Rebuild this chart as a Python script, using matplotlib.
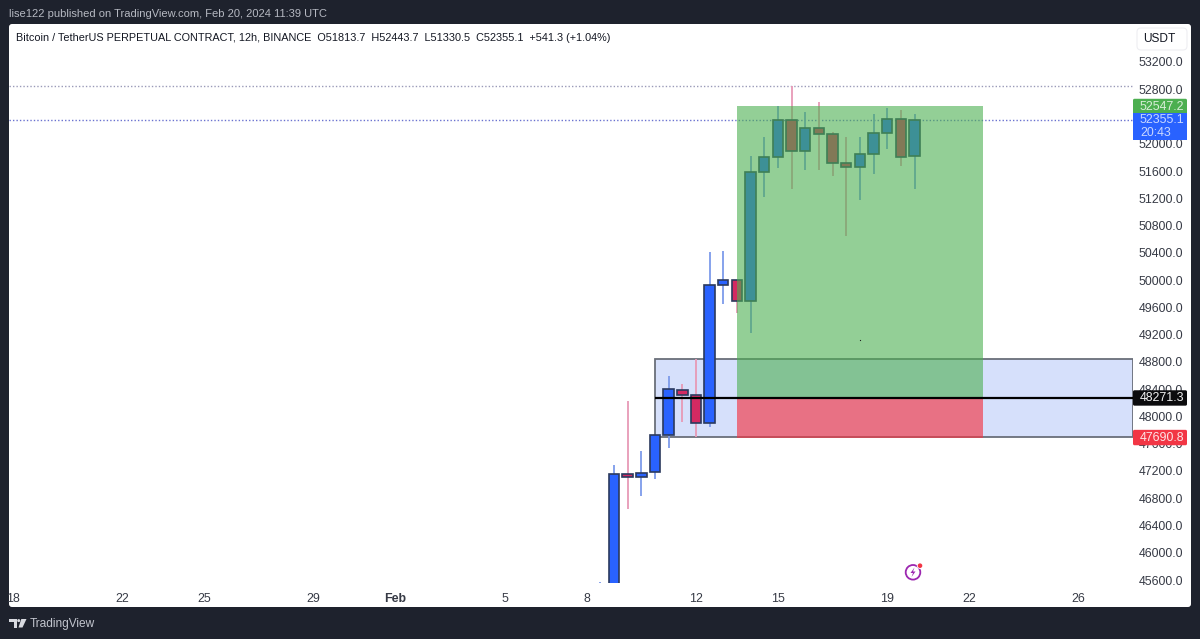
#!/usr/bin/env python

import matplotlib

matplotlib.use('Agg') # For headless use

import matplotlib.pyplot as plt
from matplotlib.patches import Circle, FancyBboxPatch, Polygon, Rectangle

plt.rcParams['font.family'] = ['Liberation Sans', 'DejaVu Sans']

# x is the day count from Jan 1 (Feb 1 = 32)
bar_days = [39.5, 40, 40.5, 41, 41.5, 42, 42.5, 43, 43.5, 44, 44.5, 45, 45.5,
            46, 46.5, 47, 47.5, 48, 48.5, 49, 49.5, 50, 50.5, 51]
opens = [45100, 45400, 47151, 47112, 47181, 47732, 48392, 48310, 47904, 49933, 49998, 49689,
         51591, 51811, 52345, 51894, 52227, 52139, 51723, 51664, 51855, 52163, 52364, 51813.7]
closes = [45400, 47151, 47112, 47171, 47732, 48398, 48310, 47904, 49933, 49998, 49689, 51591,
          51811, 52345, 51894, 52227, 52139, 51723, 51664, 51855, 52163, 52364, 51806, 52355.1]
highs = [45575, 47288, 48227, 47493, 47732, 48594, 48472, 48843, 50408, 50427, 49998, 51821,
         52095, 52559, 52848, 52462, 52613, 52178, 52104, 52104, 52437, 52530, 52496, 52443.7]
lows = [45000, 45300, 46647, 46833, 47087, 47542, 47914, 47703, 47850, 49650, 49518, 49220,
        51215, 51645, 51333, 51611, 51616, 51528, 50647, 51176, 51557, 51924, 51679, 51330.5]

price_ticks = [45600, 46000, 46400, 46800, 47200, 47600, 48000, 48400, 48800, 49200, 49600,
               50000, 50400, 50800, 51200, 51600, 52000, 52400, 52800, 53200]
day_ticks = [18, 22, 25, 29, 32, 36, 39, 43, 46, 50, 53, 57]
day_labels = ['18', '22', '25', '29', 'Feb', '5', '8', '12', '15', '19', '22', '26']

last_price = 52355.1
high_price = 52848
target_price = 52547.2
entry_price = 48271.3
stop_price = 47690.8
position_start, position_end = 44.5, 53.5
zone_start, zone_top, zone_bottom = 41.5, 48850, 47700
dot_day, dot_price = 49, 49122

BLUE = '#2962ff'
RED = '#d42a62'
DARK = '#1e222d'
W, H = 1200, 639
X_LEFT, X_RIGHT = 17.854, 58.997

fig = plt.figure(figsize=(W / 100, H / 100), dpi=100, facecolor=DARK)

# page chrome, in pixels
bg = fig.add_axes([0, 0, 1, 1], zorder=0)
bg.set_xlim(0, W)
bg.set_ylim(H, 0)
bg.axis('off')
bg.add_patch(FancyBboxPatch((10, 25), 1180, 581, boxstyle='round,pad=1,rounding_size=3',
                            fc='white', ec='none'))

ax = fig.add_axes([9 / W, 1 - 583 / H, 1124 / W, 559 / H], zorder=1)
ax.patch.set_alpha(0)
ax.set_xlim(X_LEFT, X_RIGHT)
ax.set_ylim(45557, 53757)
for s in ax.spines.values():
    s.set_visible(False)

ax.yaxis.tick_right()
ax.set_yticks(price_ticks)
ax.set_yticklabels(['{:.1f}'.format(p) for p in price_ticks])
ax.set_xticks(day_ticks)
ax.set_xticklabels(day_labels)
ax.tick_params(axis='both', length=0, labelsize=8.9, labelcolor='#363a45')
ax.tick_params(axis='y', pad=4)
ax.tick_params(axis='x', pad=7)
ax.get_xticklabels()[4].set_fontweight('bold')

# price lines
ax.axhline(high_price, color='#9a9ab8', lw=1.0, ls=(0, (1, 1.5)), zorder=1)
ax.axhline(last_price, color='#6a72d0', lw=1.0, ls=(0, (1, 1.5)), zorder=1)

# support zone
ax.add_patch(Rectangle((zone_start, zone_bottom), X_RIGHT - zone_start, zone_top - zone_bottom,
                       fc='#d6e0fb', ec='#6a6f7a', lw=1.3, zorder=2))

# candles
for day, o, c, h, l in zip(bar_days, opens, closes, highs, lows):
    up = c >= o
    ax.vlines(day, l, h, color='#7d9bea' if up else '#e79ab6', lw=1.3, zorder=3)
    ax.bar(day, abs(c - o), 0.38, bottom=min(o, c), color=BLUE if up else RED,
           edgecolor='#2b3a5e', linewidth=1.2, zorder=4)

# stray drawing dot
ax.plot([dot_day], [dot_price], 's', ms=0.8, color='#222222', mew=0, zorder=7)

# long position
ax.add_patch(Rectangle((position_start, entry_price), position_end - position_start,
                       target_price - entry_price, fc='#4caf50', alpha=0.6, ec='none', zorder=5))
ax.add_patch(Rectangle((position_start, stop_price), position_end - position_start,
                       entry_price - stop_price, fc='#f23645', alpha=0.65, ec='none', zorder=5))
ax.hlines(entry_price, zone_start, X_RIGHT, color='black', lw=1.6, zorder=6)

# everything on top, again in pixels
top = fig.add_axes([0, 0, 1, 1], zorder=2)
top.set_xlim(0, W)
top.set_ylim(H, 0)
top.axis('off')
top.patch.set_alpha(0)


def price_px(price):
    return H - ax.transData.transform((0, price))[1]


def price_label(price, text, fc, color):
    y = price_px(price)
    top.add_patch(FancyBboxPatch((1134, y - 6.7), 52, 13.4, boxstyle='round,pad=1,rounding_size=1.5',
                                 fc=fc, ec='none'))
    top.text(1140, y + 0.3, text, fontsize=8.9, color=color, ha='left', va='center')


price_label(target_price, '52547.2', '#4caf50', '#d9eed9')
price_label(entry_price, '48271.3', '#0b0b0d', '#f0f0f0')
price_label(stop_price, '47690.8', '#f23645', '#fde4e6')

y_last = price_px(last_price)
top.add_patch(Rectangle((1133, y_last - 7), 54, 27.4, fc=BLUE, ec='none'))
top.text(1140, y_last + 0.3, '52355.1', fontsize=8.9, color='#c9d8ff', ha='left', va='center')
top.text(1140, y_last + 13.3, '20:43', fontsize=8.9, color='#c9d8ff', ha='left', va='center')

# USDT button
top.add_patch(FancyBboxPatch((1139, 30), 46, 18, boxstyle='round,pad=2,rounding_size=4',
                             fc='white', ec='#eeeef2', lw=0.8))
top.text(1159, 39.3, 'USDT', fontsize=8.6, color='#131722', ha='center', va='center')

top.text(9, 14, 'lise122 published on TradingView.com, Feb 20, 2024 11:39 UTC',
         fontsize=8.05, color='#b6b9c2', va='center')
top.text(16, 38, 'Bitcoin / TetherUS PERPETUAL CONTRACT, 12h, BINANCE  O51813.7  H52443.7  '
         'L51330.5  C52355.1  +541.3 (+1.04%)', fontsize=7.85, color='#131722', va='center')

# TradingView logo
top.add_patch(Polygon([(9, 619), (17, 619), (17, 627.5), (13.5, 627.5), (13.5, 622), (9, 622)],
                      fc='#d8dae0', ec='none'))
top.add_patch(Circle((18.7, 620.6), 1.5, fc='#d8dae0', ec='none'))
top.add_patch(Polygon([(21.3, 619), (26.5, 619), (22.5, 627.5), (18.5, 627.5)],
                      fc='#d8dae0', ec='none'))
top.text(30, 624, 'TradingView', fontsize=8.6, color='#c2c5cd', va='center')

# flash icon
top.add_patch(Circle((913, 572.3), 7.3, fc='none', ec='#9c27b0', lw=1.3))
top.add_patch(Circle((920, 565.7), 3.2, fc='white', ec='none'))
top.add_patch(Circle((920, 565.7), 2.3, fc='#f23645', ec='none'))
top.add_patch(Polygon([(914.5, 567.5), (910.5, 573), (913, 573), (911.5, 577), (915.5, 571.5),
                       (913, 571.5)], fc='#9c27b0', ec='none'))

plt.savefig('out.png', dpi=100, facecolor=fig.get_facecolor())
